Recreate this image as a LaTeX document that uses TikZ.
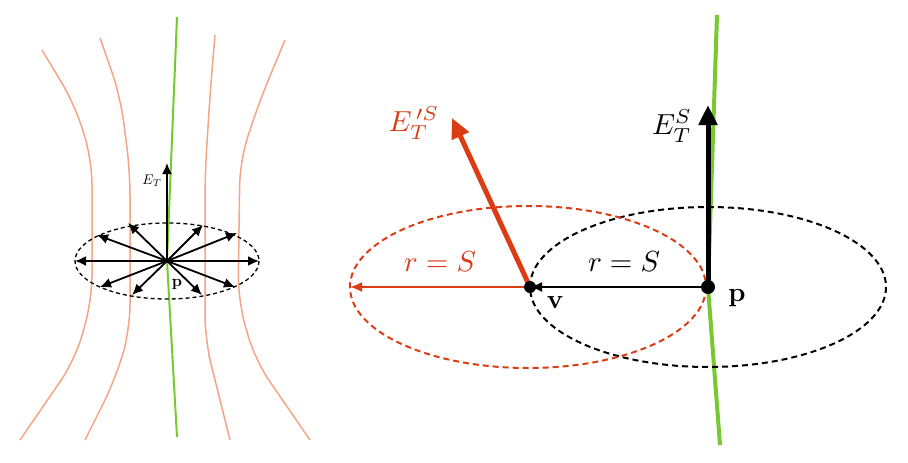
\documentclass[tikz,border=0pt]{standalone}
\usetikzlibrary{arrows.meta}
\definecolor{sal}{RGB}{245,165,135}
\definecolor{grn}{RGB}{120,200,50}
\definecolor{rd}{RGB}{220,60,20}
\begin{document}
\begin{tikzpicture}[x=1pt,y=-1pt,
  fan/.style={line width=1.8pt,-{Latex[length=11pt,width=10pt]}},
  orng/.style={sal,line width=1.5pt,rounded corners=25pt},
  dsh/.style={line width=2pt,dash pattern=on 6pt off 4pt},
  big/.style={scale=2.9}]
\useasboundingbox (0,0) rectangle (908,463);
% left
\draw[orng] (42,50)--(75,105)--(92,160)--(92,300)--(75,360)--(20,440);
\draw[orng] (100,38)--(120,95)--(130,170)--(130,330)--(115,380)--(85,440);
\draw[orng] (215,35)--(210,95)--(205,175)--(205,340)--(215,380)--(230,440);
\draw[orng] (285,40)--(260,100)--(240,160)--(238,300)--(255,360)--(310,440);
\draw[grn,line width=2pt] (177,17)--(167,261)--(177,437);
\coordinate (c) at (167,261);
\draw[line width=1.3pt,dash pattern=on 4pt off 3pt] (c) ellipse (92 and 38);
\foreach \x/\y in {167/163,75/261,259/261,97/235,128/223,203/225,237/233,100/287,132/295,202/295,235/287}
  \draw[fan] (c) -- (\x,\y);
\node[scale=1.4] (et) at (152,181) {$E_T$};
\node[scale=1.6,font=\bfseries] (pl) at (177,284) {p};
% right
\draw[grn,line width=4pt] (717,15)--(708,287)--(720,445);
\coordinate (v) at (530,287);
\coordinate (p) at (708,287);
\draw[dsh] (p) ellipse (178 and 80);
\draw[dsh,rd] (528,287) ellipse (178 and 81);
\coordinate (rl) at (350,287);
\coordinate (re) at (452,118);
\coordinate (bt) at (708,105);
\draw[rd,line width=2pt,-{Latex[length=12pt,width=10pt]}] (v)--(rl);
\draw[line width=2pt,-{Latex[length=12pt,width=10pt]}] (p)--(v);
\draw[rd,line width=5pt,-{Triangle[length=20pt,width=18pt]}] (v)--(re);
\draw[line width=5pt,-{Triangle[length=20pt,width=18pt]}] (p)--(bt);
\fill (p) circle (7);
\fill (v) circle (6);
\node[big,rd] (l1) at (414,123) {$E_T^{\,\prime S}$};
\node[big] (l2) at (672,126) {$E_T^S$};
\node[big,rd] (l3) at (440,262) {$r=S$};
\node[big] (l4) at (624,262) {$r=S$};
\node[scale=2.7,font=\bfseries] (l5) at (555,303) {v};
\node[scale=2.7,font=\bfseries] (l6) at (737,298) {p};
\end{tikzpicture}
\end{document}
